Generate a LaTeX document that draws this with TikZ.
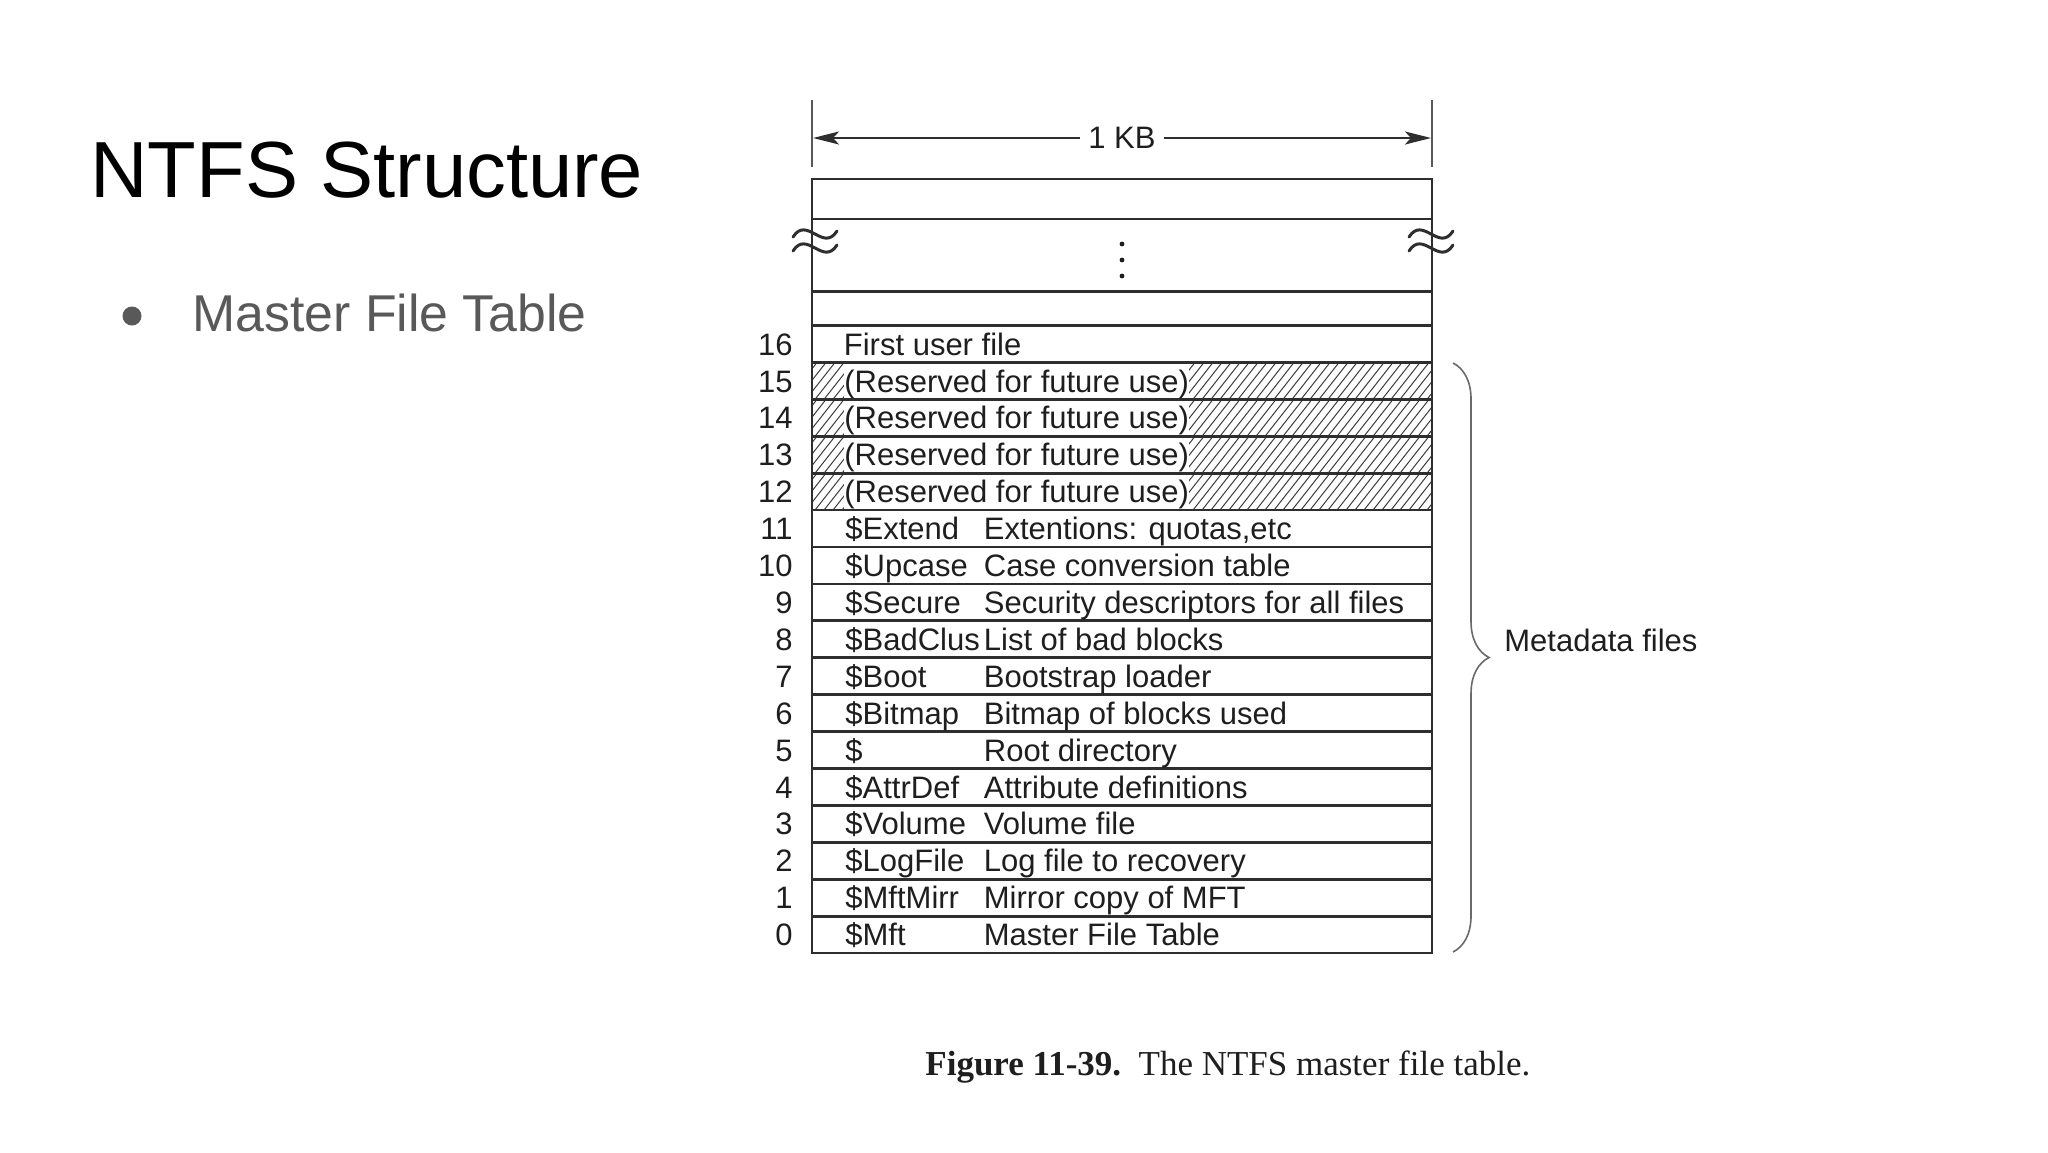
\documentclass[tikz,border=0pt]{standalone}
\usepackage{fontspec}
\setmainfont{Liberation Sans}
\newfontfamily\capfont{Liberation Serif}
\usetikzlibrary{decorations.pathreplacing,arrows.meta}
\definecolor{ink}{HTML}{1E1E1E}
\definecolor{linecol}{HTML}{2E2E2E}
\definecolor{subgray}{HTML}{595959}
\definecolor{bracegray}{HTML}{6A6A6A}
\definecolor{hatchcol}{HTML}{3C3C3C}
\tikzset{
  cell/.style={draw=linecol, line width=1.4pt, minimum width=310pt, inner sep=0pt, outer sep=0pt},
  tabtxt/.style={font=\fontsize{15.5}{16}\selectfont, text=ink, inner sep=0pt, anchor=base west},
  numtxt/.style={font=\fontsize{15.5}{16}\selectfont, text=ink, inner sep=0pt, anchor=base east},
  hatchline/.style={draw=hatchcol, line width=0.5pt},
  ticklin/.style={draw=linecol!80, line width=0.9pt},
  dimline/.style={draw=linecol, line width=1.2pt, {Stealth[length=13pt,width=6.5pt,inset=3pt]}-{Stealth[length=13pt,width=6.5pt,inset=3pt]}},
  wave/.style={draw=linecol, line width=1.5pt, line cap=round},
  dotnode/.style={circle, fill=ink, inner sep=0pt, minimum size=2.4pt},
}
\begin{document}
\begin{tikzpicture}[x=0.5pt,y=-0.5pt]
\fill[white] (0,0) rectangle (2048,1152);
\useasboundingbox (0,0) rectangle (2048,1152);

% title and bullet
\node[anchor=base west, inner sep=0pt, font=\fontsize{39.8}{40}\selectfont, text=black] (title) at (90,197) {NTFS Structure};
\node[circle, fill=subgray, inner sep=0pt, minimum size=9.5pt] (bullet) at (132,316) {};
\node[anchor=base west, inner sep=0pt, font=\fontsize{25.9}{26}\selectfont, text=subgray] (sub) at (192,331) {Master File Table};

% dimension
\coordinate (tickLa) at (812,100);
\coordinate (tickLb) at (812,167);
\coordinate (tickRa) at (1432,100);
\coordinate (tickRb) at (1432,167);
\draw[ticklin] (tickLa) -- (tickLb);
\draw[ticklin] (tickRa) -- (tickRb);
\coordinate (arrL) at (813,138);
\coordinate (arrR) at (1431,138);
\draw[dimline] (arrL) -- (arrR) node[midway, fill=white, inner xsep=4pt, inner ysep=1pt, font=\fontsize{15.5}{16}\selectfont, text=ink] (kb) {1 KB};

% top cells
\node[cell, minimum height=20pt] (topcell) at (1122,199) {};
\node[cell, minimum height=36.25pt] (gapcell) at (1122,255.25) {};
\node[cell, minimum height=17.25pt] (blankcell) at (1122,308.25) {};
\node[dotnode] (dotA) at (1122,244) {};
\node[dotnode] (dotB) at (1122,260) {};
\node[dotnode] (dotC) at (1122,276) {};

% break marks
\foreach \cx in {815,1431} {
  \foreach \cyy in {234,248} {
    \draw[wave] (\cx-22,\cyy+3) .. controls (\cx-8,\cyy-19) and (\cx+8,\cyy+19) .. (\cx+22,\cyy-3);
  }
}

% metadata rows
\foreach \k/\nm/\ds in {0/{\$Mft}/{Master File Table},
  1/{\$MftMirr}/{Mirror copy of MFT},
  2/{\$LogFile}/{Log file to recovery},
  3/{\$Volume}/{Volume file},
  4/{\$AttrDef}/{Attribute definitions},
  5/{\$}/{Root directory},
  6/{\$Bitmap}/{Bitmap of blocks used},
  7/{\$Boot}/{Bootstrap loader},
  8/{\$BadClus}/{List of bad blocks},
  9/{\$Secure}/{Security descriptors for all files},
  10/{\$Upcase}/{Case conversion table},
  11/{\$Extend}/{Extentions: quotas,etc}} {
  \pgfmathsetmacro\cy{953-(\k+0.5)*36.91}
  \pgfmathsetmacro\by{\cy+11.1}
  \node[cell, minimum height=18.455pt] (row\k) at (1122,\cy) {};
  \node[numtxt] (num\k) at (793,\by) {\k};
  \node[tabtxt] (name\k) at (845,\by) {\nm};
  \node[tabtxt] (desc\k) at (983.5,\by) {\ds};
}

% reserved rows
\foreach \k in {12,13,14,15} {
  \pgfmathsetmacro\cy{953-(\k+0.5)*36.91}
  \pgfmathsetmacro\by{\cy+11.1}
  \pgfmathsetmacro\tp{\cy-18.455}
  \pgfmathsetmacro\bt{\cy+18.455}
  \begin{scope}
    \clip (812,\tp) rectangle (1432,\bt);
    \foreach \x in {770,779,...,1440} \draw[hatchline] (\x,\bt) -- ++(29,-36.91);
  \end{scope}
  \node[tabtxt, fill=white, text height=14pt, text depth=3pt] (res\k) at (844,\by) {(Reserved for future use)};
  \node[cell, minimum height=18.455pt] (row\k) at (1122,\cy) {};
  \node[numtxt] (num\k) at (793,\by) {\k};
}

% row 16
\pgfmathsetmacro\cyS{953-16.5*36.91}
\node[cell, minimum height=18.455pt] (row16) at (1122,\cyS) {};
\node[numtxt] (num16) at (793,\cyS+11.1) {16};
\node[tabtxt] (name16) at (843.5,\cyS+11.1) {First user file};

% brace
\coordinate (brTop) at (1453,363);
\coordinate (brBot) at (1453,952);
\draw[bracegray, line width=0.8pt, decorate, decoration={brace, amplitude=18pt}] (brTop) -- (brBot);
\node[tabtxt] (meta) at (1504,651) {Metadata files};

% caption
\node[anchor=base west, inner sep=0pt, font=\capfont\fontsize{17.5}{18}\selectfont, text=ink] (caption) at (925,1075) {\textbf{Figure 11-39.}\hspace{0.5em}The NTFS master file table.};
\end{tikzpicture}
\end{document}
